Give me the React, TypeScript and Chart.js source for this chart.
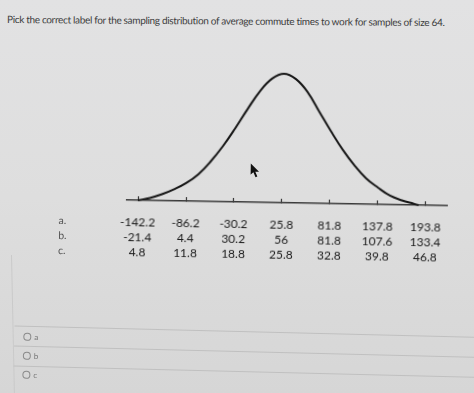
import React, { useEffect, useRef } from "react";
import { Chart, registerables } from "chart.js";

Chart.register(...registerables);

// Curve: horizontal position in standard-deviation units, and curve height (peak = 1)
const curveZ = [-3.0, -2.75, -2.5, -2.25, -2.0, -1.75, -1.5, -1.25, -1.0, -0.75, -0.5, -0.25, 0.0, 0.25, 0.5, 0.75, 1.0, 1.25, 1.5, 1.75, 2.0, 2.25, 2.5, 2.75, 2.85];
const curveHeight = [0.0, 0.02, 0.05, 0.09, 0.14, 0.21, 0.31, 0.43, 0.57, 0.72, 0.86, 0.96, 1.0, 0.96, 0.86, 0.71, 0.56, 0.42, 0.3, 0.2, 0.13, 0.07, 0.035, 0.01, 0.0];

// Tick marks on the axis
const tickPositions = [-3, -2, -1, 0, 1, 2, 3];

// Label rows
const rowA = ["-142.2", "-86.2", "-30.2", "25.8", "81.8", "137.8", "193.8"];
const rowB = ["-21.4", "4.4", "30.2", "56", "81.8", "107.6", "133.4"];
const rowC = ["4.8", "11.8", "18.8", "25.8", "32.8", "39.8", "46.8"];
const rowLetters = ["a.", "b.", "c."];
const answerOptions = ["a", "b", "c"];

const questionText =
  "Pick the correct label for the sampling distribution of average commute times to work for samples of size 64.";

function CurveChart() {
  const ref = useRef<HTMLCanvasElement | null>(null);
  useEffect(() => {
    if (!ref.current) return;
    const chart = new Chart(ref.current, {
      type: "line",
      data: {
        datasets: [
          {
            data: curveZ.map((x, i) => ({ x, y: curveHeight[i] })),
            borderColor: "#161616",
            borderWidth: 2,
            pointRadius: 0,
            tension: 0.4,
            fill: false,
            clip: false as any,
          },
        ],
      },
      options: {
        animation: false,
        responsive: false,
        events: [],
        layout: { padding: { left: 127, right: 27, top: 73, bottom: 0 } },
        plugins: { legend: { display: false }, tooltip: { enabled: false } },
        scales: {
          x: {
            type: "linear",
            min: -3.23,
            max: 3.44,
            afterBuildTicks: (s: any) => {
              s.ticks = tickPositions.map((v) => ({ value: v }));
            },
            afterFit: (s: any) => {
              s.height = 78;
            },
            grid: {
              drawOnChartArea: false,
              drawTicks: true,
              tickLength: -4,
              tickColor: "#333",
              tickWidth: 1.2,
            },
            border: { display: true, color: "#3a3a3a", width: 1.5 },
            ticks: {
              padding: 18.5,
              autoSkip: false,
              maxRotation: 0,
              minRotation: 0,
              color: "#1a1a1a",
              font: { family: "Lato", size: 12, lineHeight: 1.25 },
              callback: (_v: any, i: number) => [rowA[i], rowB[i], rowC[i]],
            },
          },
          y: { display: false, min: 0, max: 1 },
        },
      },
    });
    return () => chart.destroy();
  }, []);
  return (
    <canvas
      ref={ref}
      width={474}
      height={280}
      style={{ position: "absolute", left: 0, top: 0, width: 474, height: 280 }}
    />
  );
}

export default function App() {
  return (
    <div
      style={{
        position: "fixed",
        left: 0,
        top: 0,
        width: 474,
        height: 393,
        overflow: "hidden",
        background: "linear-gradient(180deg, #e2e2e3 0%, #dedede 50%, #d6d6d6 100%)",
        fontFamily: "Lato, 'Open Sans', sans-serif",
      }}
    >
      {/* question */}
      <div
        style={{
          position: "absolute",
          left: 7,
          top: 13,
          fontSize: 10,
          lineHeight: "12px",
          letterSpacing: "-0.32px",
          color: "#3c3c3c",
          whiteSpace: "nowrap",
          transform: "rotate(0.4deg)",
          transformOrigin: "0 6px",
        }}
      >
        {questionText}
      </div>

      {/* chart and label table */}
      <div
        style={{
          position: "absolute",
          left: 0,
          top: 0,
          width: 474,
          height: 280,
          transform: "rotate(1deg)",
          transformOrigin: "237px 196px",
        }}
      >
        <CurveChart />
        {rowLetters.map((t, i) => (
          <div
            key={t}
            style={{
              position: "absolute",
              left: 59,
              top: 216 + i * 15,
              fontSize: 10.5,
              lineHeight: "14px",
              color: "#555",
            }}
          >
            {t}
          </div>
        ))}
        <svg
          width={12}
          height={16}
          style={{ position: "absolute", left: 250, top: 163 }}
          viewBox="0 0 12 16"
        >
          <polygon points="0,0 0,11.5 3,9 5.2,14 7,13.2 4.9,8.4 8.6,8.4" fill="#111" />
        </svg>
      </div>

      {/* left edge line */}
      <div
        style={{
          position: "absolute",
          left: 11,
          top: 255,
          width: 1,
          height: 150,
          background: "#cacaca",
          transform: "rotate(-1.2deg)",
          transformOrigin: "0 0",
        }}
      />

      {/* answer options */}
      <div
        style={{
          position: "absolute",
          left: 0,
          top: 0,
          width: 474,
          height: 393,
          transform: "rotate(1.4deg)",
          transformOrigin: "237px 352px",
        }}
      >
        {[331, 351, 370.6].map((y) => (
          <div
            key={y}
            style={{
              position: "absolute",
              left: 14,
              top: y,
              width: 480,
              height: 1,
              background: "#c0c0c0",
            }}
          />
        ))}
        {answerOptions.map((t, i) => (
          <div
            key={t}
            style={{
              position: "absolute",
              left: 23,
              top: 337 + i * 19.3,
              height: 9,
              display: "flex",
              alignItems: "center",
              fontSize: 8,
              color: "#777",
            }}
          >
            <span
              style={{
                display: "inline-block",
                width: 6,
                height: 6,
                borderRadius: "50%",
                border: "1px solid #8a8a8a",
                marginRight: 3,
              }}
            />
            {t}
          </div>
        ))}
      </div>
    </div>
  );
}
